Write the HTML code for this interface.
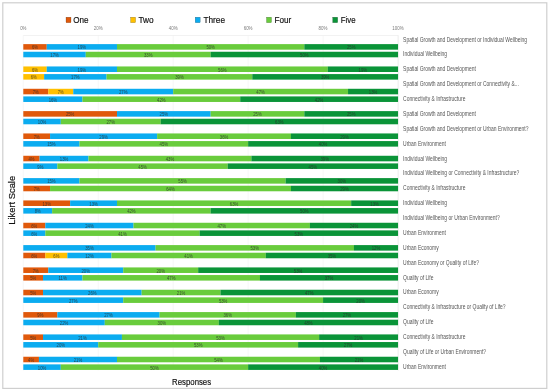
<!DOCTYPE html>
<html lang="en"><head><meta charset="utf-8"><title>Likert Scale Responses</title>
<style>html,body{margin:0;padding:0;background:#fff}svg{display:block}text{font-family:"Liberation Sans",sans-serif}</style></head><body>
<svg width="550" height="392" viewBox="0 0 550 392">
<rect width="550" height="392" fill="#fff"/>
<rect x="2.8" y="2.8" width="544" height="385.6" fill="none" stroke="#cfcfcf" stroke-width="1.2"/>
<g stroke="#f4f4f4" stroke-width="0.7">
<line x1="23.3" y1="35.5" x2="23.3" y2="370.45"/>
<line x1="98.24" y1="35.5" x2="98.24" y2="370.45"/>
<line x1="173.18" y1="35.5" x2="173.18" y2="370.45"/>
<line x1="248.12" y1="35.5" x2="248.12" y2="370.45"/>
<line x1="323.06" y1="35.5" x2="323.06" y2="370.45"/>
<line x1="398" y1="35.5" x2="398" y2="370.45"/>
<path d="M23.3 35.5H398.3V370.45" fill="none" stroke="#ececec"/>
</g>
<g font-size="4.7" fill="#7a7a7a" text-anchor="middle">
<text x="23.3" y="30.2" textLength="6.3" lengthAdjust="spacingAndGlyphs">0%</text>
<text x="98.24" y="30.2" textLength="8.9" lengthAdjust="spacingAndGlyphs">20%</text>
<text x="173.18" y="30.2" textLength="8.9" lengthAdjust="spacingAndGlyphs">40%</text>
<text x="248.12" y="30.2" textLength="8.9" lengthAdjust="spacingAndGlyphs">60%</text>
<text x="323.06" y="30.2" textLength="8.9" lengthAdjust="spacingAndGlyphs">80%</text>
<text x="398" y="30.2" textLength="11.4" lengthAdjust="spacingAndGlyphs">100%</text>
</g>
<g font-size="9.5" fill="#111" stroke="#111" stroke-width="0.18">
<rect x="66" y="17.2" width="5" height="5.5" fill="#E0590B"/>
<text x="73.3" y="22.8" textLength="15.3" lengthAdjust="spacingAndGlyphs">One</text>
<rect x="130.6" y="17.2" width="5" height="5.5" fill="#FFC000"/>
<text x="138.5" y="22.8" textLength="15.2" lengthAdjust="spacingAndGlyphs">Two</text>
<rect x="195.2" y="17.2" width="5" height="5.5" fill="#0BACF0"/>
<text x="203.4" y="22.8" textLength="21.6" lengthAdjust="spacingAndGlyphs">Three</text>
<rect x="266.5" y="17.2" width="5" height="5.5" fill="#69CC3C"/>
<text x="274.4" y="22.8" textLength="16.8" lengthAdjust="spacingAndGlyphs">Four</text>
<rect x="332.7" y="17.2" width="5" height="5.5" fill="#0A9438"/>
<text x="340.8" y="22.8" textLength="14.8" lengthAdjust="spacingAndGlyphs">Five</text>
</g>
<rect x="23.3" y="44.12" width="23.47" height="5.55" fill="#E0590B"/>
<rect x="46.72" y="44.12" width="70.31" height="5.55" fill="#0BACF0"/>
<rect x="116.97" y="44.12" width="187.4" height="5.55" fill="#69CC3C"/>
<rect x="304.32" y="44.12" width="93.72" height="5.55" fill="#0A9438"/>
<rect x="23.3" y="51.75" width="62.5" height="5.55" fill="#0BACF0"/>
<rect x="85.75" y="51.75" width="124.95" height="5.55" fill="#69CC3C"/>
<rect x="210.65" y="51.75" width="187.4" height="5.55" fill="#0A9438"/>
<rect x="23.3" y="66.45" width="23.47" height="5.55" fill="#FFC000"/>
<rect x="46.72" y="66.45" width="70.31" height="5.55" fill="#0BACF0"/>
<rect x="116.97" y="66.45" width="210.82" height="5.55" fill="#69CC3C"/>
<rect x="327.74" y="66.45" width="70.31" height="5.55" fill="#0A9438"/>
<rect x="23.3" y="74.08" width="20.87" height="5.55" fill="#FFC000"/>
<rect x="44.12" y="74.08" width="62.5" height="5.55" fill="#0BACF0"/>
<rect x="106.57" y="74.08" width="145.77" height="5.55" fill="#69CC3C"/>
<rect x="252.28" y="74.08" width="145.77" height="5.55" fill="#0A9438"/>
<rect x="23.3" y="88.78" width="25.03" height="5.55" fill="#E0590B"/>
<rect x="48.28" y="88.78" width="25.03" height="5.55" fill="#FFC000"/>
<rect x="73.26" y="88.78" width="99.97" height="5.55" fill="#0BACF0"/>
<rect x="173.18" y="88.78" width="174.91" height="5.55" fill="#69CC3C"/>
<rect x="348.04" y="88.78" width="50.01" height="5.55" fill="#0A9438"/>
<rect x="23.3" y="96.41" width="59.21" height="5.55" fill="#0BACF0"/>
<rect x="82.46" y="96.41" width="157.82" height="5.55" fill="#69CC3C"/>
<rect x="240.23" y="96.41" width="157.82" height="5.55" fill="#0A9438"/>
<rect x="23.3" y="111.11" width="93.72" height="5.55" fill="#E0590B"/>
<rect x="116.97" y="111.11" width="93.72" height="5.55" fill="#0BACF0"/>
<rect x="210.65" y="111.11" width="93.72" height="5.55" fill="#69CC3C"/>
<rect x="304.32" y="111.11" width="93.72" height="5.55" fill="#0A9438"/>
<rect x="23.3" y="118.74" width="37.52" height="5.55" fill="#0BACF0"/>
<rect x="60.77" y="118.74" width="99.97" height="5.55" fill="#69CC3C"/>
<rect x="160.69" y="118.74" width="237.36" height="5.55" fill="#0A9438"/>
<rect x="23.3" y="133.44" width="26.81" height="5.55" fill="#E0590B"/>
<rect x="50.06" y="133.44" width="107.11" height="5.55" fill="#0BACF0"/>
<rect x="157.12" y="133.44" width="133.87" height="5.55" fill="#69CC3C"/>
<rect x="290.94" y="133.44" width="107.11" height="5.55" fill="#0A9438"/>
<rect x="23.3" y="141.07" width="56.25" height="5.55" fill="#0BACF0"/>
<rect x="79.5" y="141.07" width="168.66" height="5.55" fill="#69CC3C"/>
<rect x="248.12" y="141.07" width="149.93" height="5.55" fill="#0A9438"/>
<rect x="23.3" y="155.77" width="16.34" height="5.55" fill="#E0590B"/>
<rect x="39.59" y="155.77" width="48.92" height="5.55" fill="#0BACF0"/>
<rect x="88.47" y="155.77" width="162.96" height="5.55" fill="#69CC3C"/>
<rect x="251.38" y="155.77" width="146.67" height="5.55" fill="#0A9438"/>
<rect x="23.3" y="163.4" width="34.11" height="5.55" fill="#0BACF0"/>
<rect x="57.36" y="163.4" width="170.37" height="5.55" fill="#69CC3C"/>
<rect x="227.68" y="163.4" width="170.37" height="5.55" fill="#0A9438"/>
<rect x="23.3" y="178.1" width="56.25" height="5.55" fill="#0BACF0"/>
<rect x="79.5" y="178.1" width="206.13" height="5.55" fill="#69CC3C"/>
<rect x="285.59" y="178.1" width="112.46" height="5.55" fill="#0A9438"/>
<rect x="23.3" y="185.73" width="26.81" height="5.55" fill="#E0590B"/>
<rect x="50.06" y="185.73" width="240.93" height="5.55" fill="#69CC3C"/>
<rect x="290.94" y="185.73" width="107.11" height="5.55" fill="#0A9438"/>
<rect x="23.3" y="200.43" width="46.89" height="5.55" fill="#E0590B"/>
<rect x="70.14" y="200.43" width="46.89" height="5.55" fill="#0BACF0"/>
<rect x="116.97" y="200.43" width="234.24" height="5.55" fill="#69CC3C"/>
<rect x="351.16" y="200.43" width="46.89" height="5.55" fill="#0A9438"/>
<rect x="23.3" y="208.06" width="28.87" height="5.55" fill="#0BACF0"/>
<rect x="52.12" y="208.06" width="158.58" height="5.55" fill="#69CC3C"/>
<rect x="210.65" y="208.06" width="187.4" height="5.55" fill="#0A9438"/>
<rect x="23.3" y="222.76" width="22.09" height="5.55" fill="#E0590B"/>
<rect x="45.34" y="222.76" width="88.21" height="5.55" fill="#0BACF0"/>
<rect x="133.51" y="222.76" width="176.38" height="5.55" fill="#69CC3C"/>
<rect x="309.84" y="222.76" width="88.21" height="5.55" fill="#0A9438"/>
<rect x="23.3" y="230.39" width="22.09" height="5.55" fill="#0BACF0"/>
<rect x="45.34" y="230.39" width="154.34" height="5.55" fill="#69CC3C"/>
<rect x="199.63" y="230.39" width="198.42" height="5.55" fill="#0A9438"/>
<rect x="23.3" y="245.09" width="132.3" height="5.55" fill="#0BACF0"/>
<rect x="155.55" y="245.09" width="198.42" height="5.55" fill="#69CC3C"/>
<rect x="353.92" y="245.09" width="44.13" height="5.55" fill="#0A9438"/>
<rect x="23.3" y="252.72" width="22.09" height="5.55" fill="#E0590B"/>
<rect x="45.34" y="252.72" width="22.09" height="5.55" fill="#FFC000"/>
<rect x="67.38" y="252.72" width="44.13" height="5.55" fill="#0BACF0"/>
<rect x="111.46" y="252.72" width="154.34" height="5.55" fill="#69CC3C"/>
<rect x="265.75" y="252.72" width="132.3" height="5.55" fill="#0A9438"/>
<rect x="23.3" y="267.42" width="25.03" height="5.55" fill="#E0590B"/>
<rect x="48.28" y="267.42" width="74.99" height="5.55" fill="#0BACF0"/>
<rect x="123.22" y="267.42" width="74.99" height="5.55" fill="#69CC3C"/>
<rect x="198.16" y="267.42" width="199.89" height="5.55" fill="#0A9438"/>
<rect x="23.3" y="275.05" width="19.77" height="5.55" fill="#E0590B"/>
<rect x="43.02" y="275.05" width="39.49" height="5.55" fill="#0BACF0"/>
<rect x="82.46" y="275.05" width="177.54" height="5.55" fill="#69CC3C"/>
<rect x="259.95" y="275.05" width="138.1" height="5.55" fill="#0A9438"/>
<rect x="23.3" y="289.75" width="19.77" height="5.55" fill="#E0590B"/>
<rect x="43.02" y="289.75" width="98.66" height="5.55" fill="#0BACF0"/>
<rect x="141.63" y="289.75" width="78.93" height="5.55" fill="#69CC3C"/>
<rect x="220.51" y="289.75" width="177.54" height="5.55" fill="#0A9438"/>
<rect x="23.3" y="297.38" width="99.97" height="5.55" fill="#0BACF0"/>
<rect x="123.22" y="297.38" width="199.89" height="5.55" fill="#69CC3C"/>
<rect x="323.06" y="297.38" width="74.99" height="5.55" fill="#0A9438"/>
<rect x="23.3" y="312.08" width="34.11" height="5.55" fill="#E0590B"/>
<rect x="57.36" y="312.08" width="102.24" height="5.55" fill="#0BACF0"/>
<rect x="159.55" y="312.08" width="136.3" height="5.55" fill="#69CC3C"/>
<rect x="295.81" y="312.08" width="102.24" height="5.55" fill="#0A9438"/>
<rect x="23.3" y="319.71" width="81.51" height="5.55" fill="#0BACF0"/>
<rect x="104.76" y="319.71" width="114.09" height="5.55" fill="#69CC3C"/>
<rect x="218.8" y="319.71" width="179.25" height="5.55" fill="#0A9438"/>
<rect x="23.3" y="334.41" width="19.77" height="5.55" fill="#E0590B"/>
<rect x="43.02" y="334.41" width="78.93" height="5.55" fill="#0BACF0"/>
<rect x="121.91" y="334.41" width="197.26" height="5.55" fill="#69CC3C"/>
<rect x="319.12" y="334.41" width="78.93" height="5.55" fill="#0A9438"/>
<rect x="23.3" y="342.04" width="74.99" height="5.55" fill="#0BACF0"/>
<rect x="98.24" y="342.04" width="199.89" height="5.55" fill="#69CC3C"/>
<rect x="298.08" y="342.04" width="99.97" height="5.55" fill="#0A9438"/>
<rect x="23.3" y="356.74" width="15.66" height="5.55" fill="#E0590B"/>
<rect x="38.91" y="356.74" width="78.11" height="5.55" fill="#0BACF0"/>
<rect x="116.97" y="356.74" width="203.01" height="5.55" fill="#69CC3C"/>
<rect x="319.94" y="356.74" width="78.11" height="5.55" fill="#0A9438"/>
<rect x="23.3" y="364.37" width="37.52" height="5.55" fill="#0BACF0"/>
<rect x="60.77" y="364.37" width="187.4" height="5.55" fill="#69CC3C"/>
<rect x="248.12" y="364.37" width="149.93" height="5.55" fill="#0A9438"/>
<g font-size="5.3" text-anchor="middle" fill="#2a2a2a" fill-opacity="0.78">
<text x="35.01" y="49.27" textLength="6.0" lengthAdjust="spacingAndGlyphs">6%</text>
<text x="81.85" y="49.27" textLength="8.5" lengthAdjust="spacingAndGlyphs">19%</text>
<text x="210.65" y="49.27" textLength="8.5" lengthAdjust="spacingAndGlyphs">50%</text>
<text x="351.16" y="49.27" textLength="8.5" lengthAdjust="spacingAndGlyphs">25%</text>
<text x="54.52" y="56.9" textLength="8.5" lengthAdjust="spacingAndGlyphs">17%</text>
<text x="148.2" y="56.9" textLength="8.5" lengthAdjust="spacingAndGlyphs">33%</text>
<text x="304.32" y="56.9" textLength="8.5" lengthAdjust="spacingAndGlyphs">50%</text>
<text x="35.01" y="71.6" textLength="6.0" lengthAdjust="spacingAndGlyphs">6%</text>
<text x="81.85" y="71.6" textLength="8.5" lengthAdjust="spacingAndGlyphs">19%</text>
<text x="222.36" y="71.6" textLength="8.5" lengthAdjust="spacingAndGlyphs">56%</text>
<text x="362.87" y="71.6" textLength="8.5" lengthAdjust="spacingAndGlyphs">19%</text>
<text x="33.71" y="79.23" textLength="6.0" lengthAdjust="spacingAndGlyphs">6%</text>
<text x="75.34" y="79.23" textLength="8.5" lengthAdjust="spacingAndGlyphs">17%</text>
<text x="179.43" y="79.23" textLength="8.5" lengthAdjust="spacingAndGlyphs">39%</text>
<text x="325.14" y="79.23" textLength="8.5" lengthAdjust="spacingAndGlyphs">39%</text>
<text x="35.79" y="93.93" textLength="6.0" lengthAdjust="spacingAndGlyphs">7%</text>
<text x="60.77" y="93.93" textLength="6.0" lengthAdjust="spacingAndGlyphs">7%</text>
<text x="123.22" y="93.93" textLength="8.5" lengthAdjust="spacingAndGlyphs">27%</text>
<text x="260.61" y="93.93" textLength="8.5" lengthAdjust="spacingAndGlyphs">47%</text>
<text x="373.02" y="93.93" textLength="8.5" lengthAdjust="spacingAndGlyphs">13%</text>
<text x="52.88" y="101.56" textLength="8.5" lengthAdjust="spacingAndGlyphs">16%</text>
<text x="161.35" y="101.56" textLength="8.5" lengthAdjust="spacingAndGlyphs">42%</text>
<text x="319.12" y="101.56" textLength="8.5" lengthAdjust="spacingAndGlyphs">42%</text>
<text x="70.14" y="116.26" textLength="8.5" lengthAdjust="spacingAndGlyphs">25%</text>
<text x="163.81" y="116.26" textLength="8.5" lengthAdjust="spacingAndGlyphs">25%</text>
<text x="257.49" y="116.26" textLength="8.5" lengthAdjust="spacingAndGlyphs">25%</text>
<text x="351.16" y="116.26" textLength="8.5" lengthAdjust="spacingAndGlyphs">25%</text>
<text x="42.03" y="123.89" textLength="8.5" lengthAdjust="spacingAndGlyphs">10%</text>
<text x="110.73" y="123.89" textLength="8.5" lengthAdjust="spacingAndGlyphs">27%</text>
<text x="279.35" y="123.89" textLength="8.5" lengthAdjust="spacingAndGlyphs">63%</text>
<text x="36.68" y="138.59" textLength="6.0" lengthAdjust="spacingAndGlyphs">7%</text>
<text x="103.59" y="138.59" textLength="8.5" lengthAdjust="spacingAndGlyphs">29%</text>
<text x="224.03" y="138.59" textLength="8.5" lengthAdjust="spacingAndGlyphs">36%</text>
<text x="344.47" y="138.59" textLength="8.5" lengthAdjust="spacingAndGlyphs">29%</text>
<text x="51.4" y="146.22" textLength="8.5" lengthAdjust="spacingAndGlyphs">15%</text>
<text x="163.81" y="146.22" textLength="8.5" lengthAdjust="spacingAndGlyphs">45%</text>
<text x="323.06" y="146.22" textLength="8.5" lengthAdjust="spacingAndGlyphs">40%</text>
<text x="31.45" y="160.92" textLength="6.0" lengthAdjust="spacingAndGlyphs">4%</text>
<text x="64.03" y="160.92" textLength="8.5" lengthAdjust="spacingAndGlyphs">13%</text>
<text x="169.92" y="160.92" textLength="8.5" lengthAdjust="spacingAndGlyphs">43%</text>
<text x="324.69" y="160.92" textLength="8.5" lengthAdjust="spacingAndGlyphs">39%</text>
<text x="40.33" y="168.55" textLength="6.0" lengthAdjust="spacingAndGlyphs">9%</text>
<text x="142.52" y="168.55" textLength="8.5" lengthAdjust="spacingAndGlyphs">45%</text>
<text x="312.84" y="168.55" textLength="8.5" lengthAdjust="spacingAndGlyphs">45%</text>
<text x="51.4" y="183.25" textLength="8.5" lengthAdjust="spacingAndGlyphs">15%</text>
<text x="182.55" y="183.25" textLength="8.5" lengthAdjust="spacingAndGlyphs">55%</text>
<text x="341.8" y="183.25" textLength="8.5" lengthAdjust="spacingAndGlyphs">30%</text>
<text x="36.68" y="190.88" textLength="6.0" lengthAdjust="spacingAndGlyphs">7%</text>
<text x="170.5" y="190.88" textLength="8.5" lengthAdjust="spacingAndGlyphs">64%</text>
<text x="344.47" y="190.88" textLength="8.5" lengthAdjust="spacingAndGlyphs">29%</text>
<text x="46.72" y="205.58" textLength="8.5" lengthAdjust="spacingAndGlyphs">13%</text>
<text x="93.56" y="205.58" textLength="8.5" lengthAdjust="spacingAndGlyphs">13%</text>
<text x="234.07" y="205.58" textLength="8.5" lengthAdjust="spacingAndGlyphs">63%</text>
<text x="374.58" y="205.58" textLength="8.5" lengthAdjust="spacingAndGlyphs">13%</text>
<text x="37.71" y="213.21" textLength="6.0" lengthAdjust="spacingAndGlyphs">8%</text>
<text x="131.39" y="213.21" textLength="8.5" lengthAdjust="spacingAndGlyphs">42%</text>
<text x="304.32" y="213.21" textLength="8.5" lengthAdjust="spacingAndGlyphs">50%</text>
<text x="34.32" y="227.91" textLength="6.0" lengthAdjust="spacingAndGlyphs">6%</text>
<text x="89.42" y="227.91" textLength="8.5" lengthAdjust="spacingAndGlyphs">24%</text>
<text x="221.67" y="227.91" textLength="8.5" lengthAdjust="spacingAndGlyphs">47%</text>
<text x="353.92" y="227.91" textLength="8.5" lengthAdjust="spacingAndGlyphs">24%</text>
<text x="34.32" y="235.54" textLength="6.0" lengthAdjust="spacingAndGlyphs">6%</text>
<text x="122.49" y="235.54" textLength="8.5" lengthAdjust="spacingAndGlyphs">41%</text>
<text x="298.81" y="235.54" textLength="8.5" lengthAdjust="spacingAndGlyphs">53%</text>
<text x="89.42" y="250.24" textLength="8.5" lengthAdjust="spacingAndGlyphs">35%</text>
<text x="254.73" y="250.24" textLength="8.5" lengthAdjust="spacingAndGlyphs">53%</text>
<text x="375.96" y="250.24" textLength="8.5" lengthAdjust="spacingAndGlyphs">12%</text>
<text x="34.32" y="257.87" textLength="6.0" lengthAdjust="spacingAndGlyphs">6%</text>
<text x="56.36" y="257.87" textLength="6.0" lengthAdjust="spacingAndGlyphs">6%</text>
<text x="89.42" y="257.87" textLength="8.5" lengthAdjust="spacingAndGlyphs">12%</text>
<text x="188.61" y="257.87" textLength="8.5" lengthAdjust="spacingAndGlyphs">41%</text>
<text x="331.88" y="257.87" textLength="8.5" lengthAdjust="spacingAndGlyphs">35%</text>
<text x="35.79" y="272.57" textLength="6.0" lengthAdjust="spacingAndGlyphs">7%</text>
<text x="85.75" y="272.57" textLength="8.5" lengthAdjust="spacingAndGlyphs">20%</text>
<text x="160.69" y="272.57" textLength="8.5" lengthAdjust="spacingAndGlyphs">20%</text>
<text x="298.08" y="272.57" textLength="8.5" lengthAdjust="spacingAndGlyphs">53%</text>
<text x="33.16" y="280.2" textLength="6.0" lengthAdjust="spacingAndGlyphs">5%</text>
<text x="62.74" y="280.2" textLength="8.5" lengthAdjust="spacingAndGlyphs">11%</text>
<text x="171.21" y="280.2" textLength="8.5" lengthAdjust="spacingAndGlyphs">47%</text>
<text x="328.98" y="280.2" textLength="8.5" lengthAdjust="spacingAndGlyphs">37%</text>
<text x="33.16" y="294.9" textLength="6.0" lengthAdjust="spacingAndGlyphs">5%</text>
<text x="92.32" y="294.9" textLength="8.5" lengthAdjust="spacingAndGlyphs">26%</text>
<text x="181.07" y="294.9" textLength="8.5" lengthAdjust="spacingAndGlyphs">21%</text>
<text x="309.26" y="294.9" textLength="8.5" lengthAdjust="spacingAndGlyphs">47%</text>
<text x="73.26" y="302.53" textLength="8.5" lengthAdjust="spacingAndGlyphs">27%</text>
<text x="223.14" y="302.53" textLength="8.5" lengthAdjust="spacingAndGlyphs">53%</text>
<text x="360.53" y="302.53" textLength="8.5" lengthAdjust="spacingAndGlyphs">20%</text>
<text x="40.33" y="317.23" textLength="6.0" lengthAdjust="spacingAndGlyphs">9%</text>
<text x="108.46" y="317.23" textLength="8.5" lengthAdjust="spacingAndGlyphs">27%</text>
<text x="227.68" y="317.23" textLength="8.5" lengthAdjust="spacingAndGlyphs">36%</text>
<text x="346.9" y="317.23" textLength="8.5" lengthAdjust="spacingAndGlyphs">27%</text>
<text x="64.03" y="324.86" textLength="8.5" lengthAdjust="spacingAndGlyphs">22%</text>
<text x="161.78" y="324.86" textLength="8.5" lengthAdjust="spacingAndGlyphs">30%</text>
<text x="308.4" y="324.86" textLength="8.5" lengthAdjust="spacingAndGlyphs">48%</text>
<text x="33.16" y="339.56" textLength="6.0" lengthAdjust="spacingAndGlyphs">5%</text>
<text x="82.46" y="339.56" textLength="8.5" lengthAdjust="spacingAndGlyphs">21%</text>
<text x="220.51" y="339.56" textLength="8.5" lengthAdjust="spacingAndGlyphs">53%</text>
<text x="358.56" y="339.56" textLength="8.5" lengthAdjust="spacingAndGlyphs">21%</text>
<text x="60.77" y="347.19" textLength="8.5" lengthAdjust="spacingAndGlyphs">20%</text>
<text x="198.16" y="347.19" textLength="8.5" lengthAdjust="spacingAndGlyphs">53%</text>
<text x="348.04" y="347.19" textLength="8.5" lengthAdjust="spacingAndGlyphs">27%</text>
<text x="31.11" y="361.89" textLength="6.0" lengthAdjust="spacingAndGlyphs">4%</text>
<text x="77.94" y="361.89" textLength="8.5" lengthAdjust="spacingAndGlyphs">21%</text>
<text x="218.46" y="361.89" textLength="8.5" lengthAdjust="spacingAndGlyphs">54%</text>
<text x="358.97" y="361.89" textLength="8.5" lengthAdjust="spacingAndGlyphs">21%</text>
<text x="42.03" y="369.52" textLength="8.5" lengthAdjust="spacingAndGlyphs">10%</text>
<text x="154.44" y="369.52" textLength="8.5" lengthAdjust="spacingAndGlyphs">50%</text>
<text x="323.06" y="369.52" textLength="8.5" lengthAdjust="spacingAndGlyphs">40%</text>
</g>
<g font-size="6.3" fill="#555">
<text transform="translate(403.1 41.6) scale(0.79 1)">Spatial Growth and Development or Individual Wellbeing</text>
<text transform="translate(403.1 56.47) scale(0.79 1)">Individual Wellbeing</text>
<text transform="translate(403.1 71.34) scale(0.79 1)">Spatial Growth and Development</text>
<text transform="translate(403.1 86.21) scale(0.79 1)">Spatial Growth and Development or Connectivity &amp;...</text>
<text transform="translate(403.1 101.08) scale(0.79 1)">Connectivity &amp; Infrastructure</text>
<text transform="translate(403.1 115.95) scale(0.79 1)">Spatial Growth and Development</text>
<text transform="translate(403.1 130.82) scale(0.79 1)">Spatial Growth and Development or Urban Environment?</text>
<text transform="translate(403.1 145.69) scale(0.79 1)">Urban Environment</text>
<text transform="translate(403.1 160.56) scale(0.79 1)">Individual Wellbeing</text>
<text transform="translate(403.1 175.43) scale(0.79 1)">Individual Wellbeing or Connectivity &amp; Infrastructure?</text>
<text transform="translate(403.1 190.3) scale(0.79 1)">Connectivity &amp; Infrastructure</text>
<text transform="translate(403.1 205.17) scale(0.79 1)">Individual Wellbeing</text>
<text transform="translate(403.1 220.04) scale(0.79 1)">Individual Wellbeing or Urban Environment?</text>
<text transform="translate(403.1 234.91) scale(0.79 1)">Urban Environment</text>
<text transform="translate(403.1 249.78) scale(0.79 1)">Urban Economy</text>
<text transform="translate(403.1 264.65) scale(0.79 1)">Urban Economy or Quality of Life?</text>
<text transform="translate(403.1 279.52) scale(0.79 1)">Quality of Life</text>
<text transform="translate(403.1 294.39) scale(0.79 1)">Urban Economy</text>
<text transform="translate(403.1 309.26) scale(0.79 1)">Connectivity &amp; Infrastructure or Quality of Life?</text>
<text transform="translate(403.1 324.13) scale(0.79 1)">Quality of Life</text>
<text transform="translate(403.1 339) scale(0.79 1)">Connectivity &amp; Infrastructure</text>
<text transform="translate(403.1 353.87) scale(0.79 1)">Quality of Life or Urban Environment?</text>
<text transform="translate(403.1 368.74) scale(0.79 1)">Urban Environment</text>
</g>
<text font-size="9.5" fill="#111" stroke="#111" stroke-width="0.18" text-anchor="middle" textLength="48.8" lengthAdjust="spacingAndGlyphs" transform="translate(15.3 200.3) rotate(-90)">Likert Scale</text>
<text font-size="9.5" fill="#111" stroke="#111" stroke-width="0.18" x="172.1" y="384.9" textLength="39" lengthAdjust="spacingAndGlyphs">Responses</text>
</svg></body></html>
